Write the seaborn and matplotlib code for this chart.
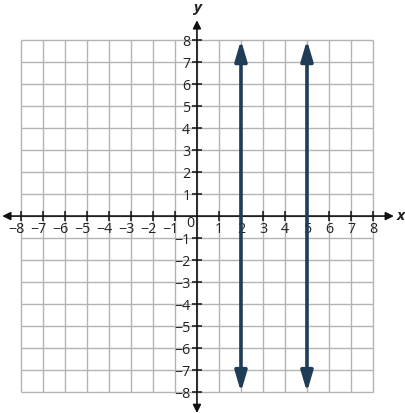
import matplotlib
matplotlib.use("Agg")
import matplotlib.pyplot as plt
import seaborn as sns
import numpy as np

sns.set_theme(style="white")
plt.rcParams['font.family'] = ['Open Sans', 'DejaVu Sans']

ticks = [-8, -7, -6, -5, -4, -3, -2, -1, 1, 2, 3, 4, 5, 6, 7, 8]
grid_vals = list(range(-8, 9))
line_x = [2, 5]
line_y = [-8, 8]

fig = plt.figure(figsize=(4.06, 4.13), dpi=100)
ax = fig.add_axes([0, 0, 1, 1])
ax.set_xlim(-8.95, 9.5)
ax.set_ylim(-8.95, 9.82)
ax.axis('off')

gc = '#b3b3b3'
ax.vlines(grid_vals, -8, 8, color=gc, lw=1, zorder=1)
ax.hlines(grid_vals, -8, 8, color=gc, lw=1, zorder=1)

# axes with arrows
ak = dict(arrowstyle='<|-|>', color='#111111', lw=1.2, mutation_scale=12, shrinkA=0, shrinkB=0)
ax.annotate('', xy=(8.95, 0), xytext=(-8.85, 0), arrowprops=ak, zorder=3)
ax.annotate('', xy=(0, 8.9), xytext=(0, -8.95), arrowprops=ak, zorder=3)

# tick marks
ax.plot(ticks, [0]*len(ticks), ls='none', marker='|', ms=7, mew=1.1, color='#111111', zorder=3)
ax.plot([0]*len(ticks), ticks, ls='none', marker='_', ms=7, mew=1.1, color='#111111', zorder=3)

fs = 10.3
for t in ticks:
    lab = str(t).replace('-', '\u2212')
    if t < 0:
        ax.text(t + 0.17, -0.6, lab, ha='right', va='center', fontsize=fs, color='#222222', zorder=4)
    else:
        ax.text(t, -0.6, lab, ha='center', va='center', fontsize=fs, color='#222222', zorder=4)
    ax.text(-0.3, t - 0.1, lab, ha='right', va='center', fontsize=fs, color='#222222', zorder=4)
ax.text(-0.32, -0.35, '0', ha='center', va='center', fontsize=fs, color='#222222', zorder=4)

ax.text(9.25, 0, 'x', ha='center', va='center', fontsize=11, style='italic', weight='bold', color='#222222')
ax.text(0, 9.45, 'y', ha='center', va='center', fontsize=11, style='italic', weight='bold', color='#222222')

# vertical lines x=2, x=5
lk = dict(arrowstyle='<|-|>,head_length=0.68,head_width=0.2', color='#1f3d56', lw=2.6,
          mutation_scale=18, shrinkA=0, shrinkB=0)
for xv in line_x:
    ax.annotate('', xy=(xv, line_y[1]), xytext=(xv, line_y[0]), arrowprops=lk, zorder=5)

fig.savefig('out.png', dpi=100)
